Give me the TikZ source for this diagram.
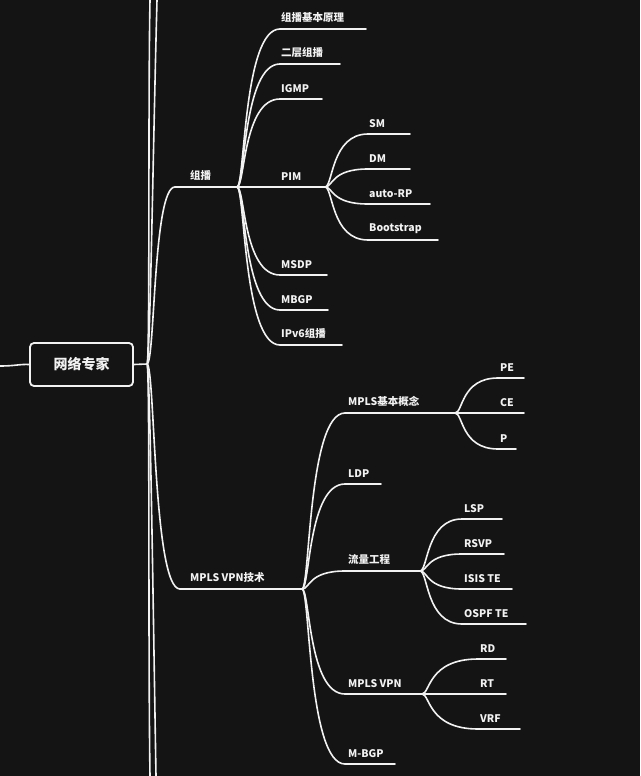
\documentclass[tikz,border=0pt]{standalone}
\usepackage{fontspec}
\newfontfamily\cjk{Noto Sans CJK SC}
\definecolor{bg}{HTML}{141414}
\definecolor{ln}{HTML}{F2F2F2}
\tikzset{
  lbl/.style={anchor=south west,inner sep=0pt,text=ln,font=\cjk\bfseries\fontsize{10.5}{12}\selectfont},
  ul/.style={draw=ln,line width=1.6pt,line cap=round},
  rootbox/.style={draw=ln,line width=1.8pt,rounded corners=4pt,text=ln,minimum width=103pt,minimum height=43pt,font=\cjk\bfseries\fontsize{14}{16}\selectfont}
}
% \leaf{name}{x start}{x end}{y}{text}{text x offset}
\newcommand{\leaf}[6]{%
  \coordinate (#1s) at (#2,#4); \coordinate (#1e) at (#3,#4);
  \draw[ul] (#1s) -- (#1e);
  \node[lbl] (#1) at (#2+#6,#4-6) {#5};}
\newcommand{\link}[2]{%
  \draw[ul] (#1) .. controls ($(#1)+(8,0)$) and ($(#1|-#2)+(6,0)$) .. (#2);}
\usetikzlibrary{calc}
\begin{document}
\begin{tikzpicture}[x=1pt,y=-1pt]
\fill[bg] (0,0) rectangle (640,776);
\useasboundingbox (0,0) rectangle (640,776);
\node[rootbox] (root) at (81.5,364.5) {网络专家};
\coordinate (L) at (0,366);
\draw[ul] (L) .. controls (15,366) and (20,364) .. (root.west);
\coordinate (T) at (147,364);
\draw[ul] (root.east) -- (T);
\coordinate (up1) at (150,0); \coordinate (up2) at (157,0);
\coordinate (dn1) at (150,776); \coordinate (dn2) at (156,776);
\draw[ul] (T) .. controls (150,364) and (148,100) .. (up1);
\draw[ul] (T) .. controls (150,364) and (153,150) .. (up2);
\draw[ul] (T) .. controls (150,364) and (148,650) .. (dn1);
\draw[ul] (T) .. controls (150,364) and (153,600) .. (dn2);
% level 1
\leaf{zb}{175}{237}{187}{组播}{15}
\leaf{mv}{180}{302}{589}{MPLS VPN技术}{10}
\link{T}{zbs}
\link{T}{mvs}
% 组播 children
\leaf{a1}{280}{366}{29}{组播基本原理}{1}
\leaf{a2}{280}{340}{64}{二层组播}{1}
\leaf{a3}{280}{322}{99}{IGMP}{1}
\leaf{a4}{280}{325}{187}{PIM}{1}
\leaf{a5}{280}{327}{275}{MSDP}{1}
\leaf{a6}{280}{328}{310}{MBGP}{1}
\leaf{a7}{280}{342}{345}{IPv6组播}{1}
\foreach \n in {a1,a2,a3,a4,a5,a6,a7} {\link{zbe}{\n s}}
% PIM children
\leaf{p1}{368}{410}{134}{SM}{1}
\leaf{p2}{368}{410}{169}{DM}{1}
\leaf{p3}{368}{430}{204}{auto-RP}{1}
\leaf{p4}{368}{438}{240}{Bootstrap}{1}
\foreach \n in {p1,p2,p3,p4} {\link{a4e}{\n s}}
% MPLS children
\leaf{b1}{345}{455}{413}{MPLS基本概念}{3}
\leaf{b2}{345}{381}{484}{LDP}{3}
\leaf{b3}{345}{420}{571}{流量工程}{3}
\leaf{b4}{345}{422}{694}{MPLS VPN}{3}
\leaf{b5}{345}{395}{764}{M-BGP}{3}
\foreach \n in {b1,b2,b3,b4,b5} {\link{mve}{\n s}}
\leaf{c1}{498}{524}{378}{PE}{2}
\leaf{c2}{498}{524}{413}{CE}{2}
\leaf{c3}{498}{516}{449}{P}{2}
\foreach \n in {c1,c2,c3} {\link{b1e}{\n s}}
\leaf{d1}{462}{502}{519}{LSP}{2}
\leaf{d2}{462}{504}{554}{RSVP}{2}
\leaf{d3}{462}{512}{589}{ISIS TE}{2}
\leaf{d4}{462}{526}{624}{OSPF TE}{2}
\foreach \n in {d1,d2,d3,d4} {\link{b3e}{\n s}}
\leaf{e1}{478}{506}{659}{RD}{2}
\leaf{e2}{478}{506}{694}{RT}{2}
\leaf{e3}{478}{520}{729}{VRF}{2}
\foreach \n in {e1,e2,e3} {\link{b4e}{\n s}}
\end{tikzpicture}
\end{document}
